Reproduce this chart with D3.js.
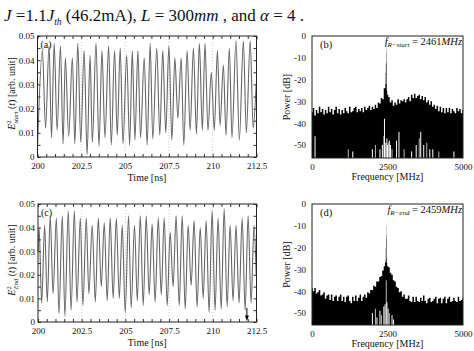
<!DOCTYPE html>
<html><head><meta charset="utf-8">
<script src="https://cdn.jsdelivr.net/npm/d3@7"></script>
<style>body{margin:0;background:#fff}svg text{font-family:"Liberation Serif","Times New Roman",serif;fill:#111}</style>
</head><body><svg id="c" width="474" height="351"></svg>
<script>
// ---------- data ----------
const timeTicks = [200, 202.5, 205, 207.5, 210, 212.5];
const ampTicks = [0, 0.01, 0.02, 0.03, 0.04, 0.05];
const freqTicks = [0, 2500, 5000];
const dbTicks = [0, -10, -20, -30, -40, -50];

// panel (a): extrema of E^2_start(t)
const startTimes = [200.00,200.28,200.46,200.66,200.80,200.95,201.12,201.31,201.46,201.59,201.78,201.99,202.13,202.30,202.47,202.66,202.83,203.00,203.13,203.34,203.51,203.68,203.85,204.06,204.21,204.40,204.55,204.72,204.88,205.09,205.26,205.41,205.56,205.73,205.88,206.09,206.26,206.43,206.58,206.81,206.98,207.15,207.32,207.50,207.67,207.84,208.01,208.20,208.35,208.54,208.71,208.90,209.07,209.24,209.41,209.56,209.73,209.92,210.09,210.27,210.42,210.61,210.76,210.95,211.10,211.33,211.52,211.75,211.92,212.14,212.31,212.48];
const startVals = [0.004,0.044,0.012,0.046,0.008,0.047,0.011,0.046,0.0055,0.041,0.0085,0.041,0.0055,0.047,0.006,0.044,0.001,0.042,0.006,0.047,0.0045,0.044,0.008,0.046,0.005,0.044,0.009,0.045,0.0055,0.042,0.005,0.044,0.007,0.044,0.008,0.041,0.005,0.047,0.0075,0.045,0.009,0.044,0.010,0.046,0.007,0.041,0.016,0.041,0.005,0.044,0.011,0.045,0.0095,0.047,0.011,0.047,0.011,0.035,0.011,0.044,0.013,0.038,0.009,0.045,0.008,0.048,0.007,0.048,0.010,0.048,0.012,0.030];

// panel (c): extrema of E^2_End(t)
const endTimes = [200.00,200.06,200.21,200.38,200.53,200.70,200.86,201.05,201.20,201.39,201.54,201.73,201.89,202.08,202.23,202.42,202.57,202.76,202.91,203.10,203.28,203.45,203.62,203.79,203.96,204.13,204.30,204.48,204.65,204.82,204.99,205.18,205.33,205.52,205.68,205.85,206.02,206.19,206.36,206.53,206.70,206.88,207.05,207.22,207.39,207.56,207.73,207.90,208.08,208.25,208.42,208.59,208.76,208.93,209.10,209.28,209.45,209.62,209.79,209.96,210.13,210.30,210.48,210.65,210.82,210.99,211.16,211.33,211.50,211.68,211.85,212.02,212.19,212.36,212.48];
const endVals = [0.030,0.040,0.008,0.041,0.0085,0.045,0.012,0.044,0.0035,0.045,0.0025,0.047,0.005,0.047,0.0085,0.044,0.007,0.044,0.012,0.041,0.0085,0.044,0.015,0.042,0.009,0.044,0.010,0.044,0.010,0.041,0.004,0.045,0.006,0.041,0.009,0.045,0.007,0.045,0.0115,0.0415,0.0085,0.044,0.0115,0.044,0.007,0.038,0.015,0.045,0.007,0.045,0.0055,0.041,0.0155,0.043,0.0065,0.040,0.010,0.043,0.004,0.047,0.005,0.044,0.0055,0.048,0.0065,0.041,0.009,0.041,0.008,0.044,0.005,0.045,0.008,0.041,0.020];

// spectra: upper envelope on a 50 MHz grid (0..5000 MHz)
const specGridStep = 50;
const specStartEnv = [-35,-33,-36.5,-34,-35.5,-32.5,-35,-33.5,-36,-34,-35.5,-32.5,-35,-33.5,-36,-34,-32.5,-35.5,-33.5,-36,-34,
  -35.5,-33,-34.5,-35.5,-32.5,-35,-34.5,-33,-32.5,-35,-33.5,-34.5,-33,-35,-32.5,-34,-33,-32,-34,-32.5,
  -33.5,-31.5,-33,-30.5,-31,-28.5,-29,-24,
  -18,-27,-28,-30.5,-29.5,-32,
  -30.5,-31.5,-29,-31,-29.5,-30,
  -29,-30.5,-29,-28,-30,-27,-28.5,-26.5,-28.5,-27.5,
  -27,-29,-27.5,-29.5,-28,-30.5,-29.5,-31.5,-30,-32.5,
  -31.5,-33.5,-32,-34.5,-32.5,-35,-33,-35.5,-33,-35,
  -33,-35.5,-33.5,-34.5,-35.5,-33,-34.5,-33.5,-35.5,-34];
const startPeakFreqs = [2420,2435,2442,2450,2456,2461,2466,2472,2480];
const startPeakVals  = [-24,-22,-17,-13,-7,0,-12,-22,-25];
const startDipFreqs = [100,1200,1350,2000,2100,2250,2330,2380,2400,2420,2450,2480,2500,2540,2560,2600,2650,2800,2880,3050,3300,3450,3550,3600,3700,3800,3900,4000,4200,4700];
const startDipVals  = [-46,-52,-53,-52,-50,-52,-50,-46,-38,-49,-49,-47,-50,-49,-48,-50,-52,-48,-44,-52,-53,-50,-47,-44,-50,-49,-52,-52,-53,-53];

const specEndEnv = [-38.5,-40,-38.5,-41,-40.5,-39.5,-42,-41.5,-40.5,-43.5,-42,-41.5,-44,-41.5,-44.5,-42.5,-42,-44.5,-42.5,-41.5,-44.5,
  -42.5,-45,-42.5,-42,-44.5,-45.5,-42.5,-44.5,-42,-44.5,-43,-41.5,-44.5,-42.5,-41.5,-43,-40.5,-41,-39.5,-39.5,
  -37.5,-38,-35.5,-35.5,-33.5,-33,-30.5,-28.5,
  -25,-28.5,-29,-31.5,-32.5,-35,
  -35.5,-38,-38.5,-40.5,-40,-42.5,
  -41.5,-43.5,-43.5,-42,-44.5,-45,-42.5,-45,-42.5,-44.5,
  -45,-43,-44.5,-42,-44.5,-45.5,-43.5,-43,-45,-44.5,
  -43.5,-42.5,-45.5,-43.5,-43,-45.5,-43.5,-42.5,-45.5,-43.5,
  -42.5,-45,-44.5,-43,-44.5,-45,-42.5,-44.5,-44,-43];
const endPeakFreqs = [2430,2440,2447,2453,2459,2464,2470,2480];
const endPeakVals  = [-27,-26,-20,-14,-10,-16,-25,-27];
const endDipFreqs = [2000,2100,2150,2250,2300,2380,2420,2459,2480,2520,2560,2650,2700];
const endDipVals  = [-50,-48,-52,-49,-51,-47,-46,-35,-45,-48,-50,-51,-53];

// ---------- drawing ----------
const svg = d3.select("#c");
const serif = '"Liberation Serif","Times New Roman",serif';

// title
const title = svg.append("text").attr("x", 4).attr("y", 21).attr("font-size", 17);
title.append("tspan").attr("font-style","italic").text("J");
title.append("tspan").text(" =1.1");
title.append("tspan").attr("font-style","italic").text("J");
title.append("tspan").attr("font-size",9.5).attr("font-style","italic").attr("dy",4).text("th");
title.append("tspan").attr("dy",-4).text(" (46.2mA),  ");
title.append("tspan").attr("font-style","italic").text("L");
title.append("tspan").text(" = 300");
title.append("tspan").attr("font-style","italic").text("mm");
title.append("tspan").text(" , and  ");
title.append("tspan").attr("font-style","italic").text("α");
title.append("tspan").text(" = 4 .");

function frame(g, x, y) {
  g.append("rect").attr("x", x.range()[0]).attr("y", y.range()[1])
    .attr("width", x.range()[1]-x.range()[0]).attr("height", y.range()[0]-y.range()[1])
    .attr("fill","none").attr("stroke","#222").attr("stroke-width",1);
}
function styleAxis(a) {
  a.attr("font-family", serif).attr("font-size", 9);
  a.select(".domain").remove();
  a.selectAll("text").attr("font-family",serif).attr("font-size",9).attr("fill","#222");
}

function timePanel(opt) {
  const g = svg.append("g");
  const x = d3.scaleLinear().domain([200, 212.5]).range(opt.xr);
  const y = d3.scaleLinear().domain([0, 0.05]).range(opt.yr);
  g.selectAll(".vg").data(timeTicks.slice(1,-1)).join("line")
    .attr("x1", d=>x(d)).attr("x2", d=>x(d)).attr("y1", opt.yr[0]).attr("y2", opt.yr[1])
    .attr("stroke","#bbb").attr("stroke-width",0.8).attr("stroke-dasharray","1,2");
  const pts = opt.t.map((t,i)=>[t, opt.v[i]]);
  g.append("path").datum(pts)
    .attr("d", d3.line().x(d=>x(d[0])).y(d=>y(d[1])).curve(d3.curveMonotoneX))
    .attr("fill","none").attr("stroke","#666").attr("stroke-width",1.1);
  const minorX = d3.range(0, 26).map(i => 200 + i*0.5);
  const minorY = d3.range(0, 11).map(i => i*0.005);
  const tk = (sel) => { sel.select(".domain").remove(); sel.selectAll("line").attr("stroke","#333"); };
  g.append("g").attr("transform",`translate(0,${opt.yr[0]})`)
    .call(d3.axisBottom(x).tickValues(minorX).tickSize(-3).tickFormat("")).call(tk);
  g.append("g").attr("transform",`translate(0,${opt.yr[1]})`)
    .call(d3.axisTop(x).tickValues(minorX).tickSize(-3).tickFormat("")).call(tk);
  g.append("g").attr("transform",`translate(${opt.xr[0]},0)`)
    .call(d3.axisLeft(y).tickValues(minorY).tickSize(-3).tickFormat("")).call(tk);
  g.append("g").attr("transform",`translate(${opt.xr[1]},0)`)
    .call(d3.axisRight(y).tickValues(minorY).tickSize(-3).tickFormat("")).call(tk);
  g.append("g").attr("transform",`translate(0,${opt.yr[0]})`)
    .call(d3.axisBottom(x).tickValues(timeTicks).tickSize(0).tickPadding(6).tickFormat(d=>String(d)))
    .call(styleAxis);
  g.append("g").attr("transform",`translate(${opt.xr[0]},0)`)
    .call(d3.axisLeft(y).tickValues(ampTicks).tickSize(0).tickPadding(3).tickFormat(d=>d===0?"0":d3.format(".2f")(d)))
    .call(styleAxis);
  frame(g, x, y);
  g.append("text").attr("x", (opt.xr[0]+opt.xr[1])/2).attr("y", opt.yr[0]+24)
    .attr("text-anchor","middle").attr("font-size",10).text("Time [ns]");
  g.append("text").attr("x", opt.xr[0]+3).attr("y", opt.yr[1]+12).attr("font-size",10).text(opt.tag);
  const cy = (opt.yr[0]+opt.yr[1])/2 - 3;
  const yl = g.append("text").attr("transform",`translate(15,${cy}) rotate(-90)`)
    .attr("text-anchor","middle").attr("font-size",10);
  yl.append("tspan").attr("font-style","italic").text("E");
  yl.append("tspan").attr("font-size",6.5).attr("dy",-4).text("2");
  yl.append("tspan").attr("font-size",6.5).attr("font-style","italic").attr("dx",-3).attr("dy",6.5).text(opt.sub);
  yl.append("tspan").attr("dy",-2.5).text(" (");
  yl.append("tspan").attr("font-style","italic").text("t");
  yl.append("tspan").text(") [arb. unit]");
  return {g, x, y};
}

function specPanel(opt) {
  const g = svg.append("g");
  const x = d3.scaleLinear().domain([0, 5000]).range(opt.xr);
  const y = d3.scaleLinear().domain([opt.ymin, 0]).range(opt.yr);
  const lo = opt.pf[0], hi = opt.pf[opt.pf.length-1];
  let pts = opt.env.map((v,i)=>[i*specGridStep, v]).filter(p => p[0] < lo || p[0] > hi);
  opt.pf.forEach((f,i)=>pts.push([f, opt.pv[i]]));
  pts.sort((a,b)=>a[0]-b[0]);
  g.append("path").datum(pts)
    .attr("d", d3.area().x(d=>x(d[0])).y0(opt.yr[0]).y1(d=>y(d[1])).curve(d3.curveStep))
    .attr("fill","#000");
  g.selectAll(".dip").data(opt.df.map((f,i)=>[f,opt.dv[i]])).join("line")
    .attr("x1", d=>x(d[0])).attr("x2", d=>x(d[0])).attr("y1", opt.yr[0]).attr("y2", d=>y(d[1]))
    .attr("stroke", (d,i)=> i%3===1 ? "#bbb" : "#fff").attr("stroke-width",1);
  frame(g, x, y);
  g.append("g").attr("transform",`translate(0,${opt.yr[0]})`)
    .call(d3.axisBottom(x).tickValues(freqTicks).tickSize(0).tickPadding(6).tickFormat(d=>String(d)))
    .call(styleAxis);
  g.append("g").attr("transform",`translate(${opt.xr[0]},0)`)
    .call(d3.axisLeft(y).tickValues(dbTicks).tickSize(0).tickPadding(6).tickFormat(d=>String(d)))
    .call(styleAxis);
  g.append("text").attr("x", (opt.xr[0]+opt.xr[1])/2).attr("y", opt.yr[0]+22)
    .attr("text-anchor","middle").attr("font-size",10).text("Frequency [MHz]");
  const cy = (opt.yr[0]+opt.yr[1])/2;
  g.append("text").attr("transform",`translate(290,${cy}) rotate(-90)`)
    .attr("text-anchor","middle").attr("font-size",10).text("Power [dB]");
  g.append("text").attr("x", opt.xr[0]+8).attr("y", opt.yr[1]+12).attr("font-size",10.5).text(opt.tag);
  const fl = g.append("text").attr("x", opt.xr[1]-1).attr("y", opt.yr[1]+9).attr("text-anchor","end").attr("font-size",10.5);
  fl.append("tspan").attr("font-style","italic").text("f");
  fl.append("tspan").attr("font-style","italic").attr("font-size",7).attr("dy",2).text(opt.fsub);
  fl.append("tspan").attr("dy",-2).text(" = " + opt.fval);
  fl.append("tspan").attr("font-style","italic").text("MHz");
}

timePanel({xr:[37.5,256.5], yr:[157,36], t:startTimes, v:startVals, tag:"(a)", sub:"start"});
const pc = timePanel({xr:[38,256.5], yr:[322,204], t:endTimes, v:endVals, tag:"(c)", sub:"End"});
pc.g.append("line").attr("x1", pc.x(211.95)).attr("x2", pc.x(211.95)).attr("y1", pc.y(0.006)).attr("y2", pc.y(0.0025))
  .attr("stroke","#000").attr("stroke-width",1);
pc.g.append("path").attr("d", d3.line()([[pc.x(211.95)-2, pc.y(0.0028)],[pc.x(211.95)+2, pc.y(0.0028)],[pc.x(211.95), pc.y(0.0004)]]) + "Z")
  .attr("fill","#000");

specPanel({xr:[312,463], yr:[158,36], ymin:-56, env:specStartEnv, pf:startPeakFreqs, pv:startPeakVals,
  df:startDipFreqs, dv:startDipVals, tag:"(b)", fsub:"R\u2212start", fval:"2461"});
specPanel({xr:[312,463], yr:[325,204], ymin:-55.5, env:specEndEnv, pf:endPeakFreqs, pv:endPeakVals,
  df:endDipFreqs, dv:endDipVals, tag:"(d)", fsub:"R\u2212end", fval:"2459"});
</script></body></html>
